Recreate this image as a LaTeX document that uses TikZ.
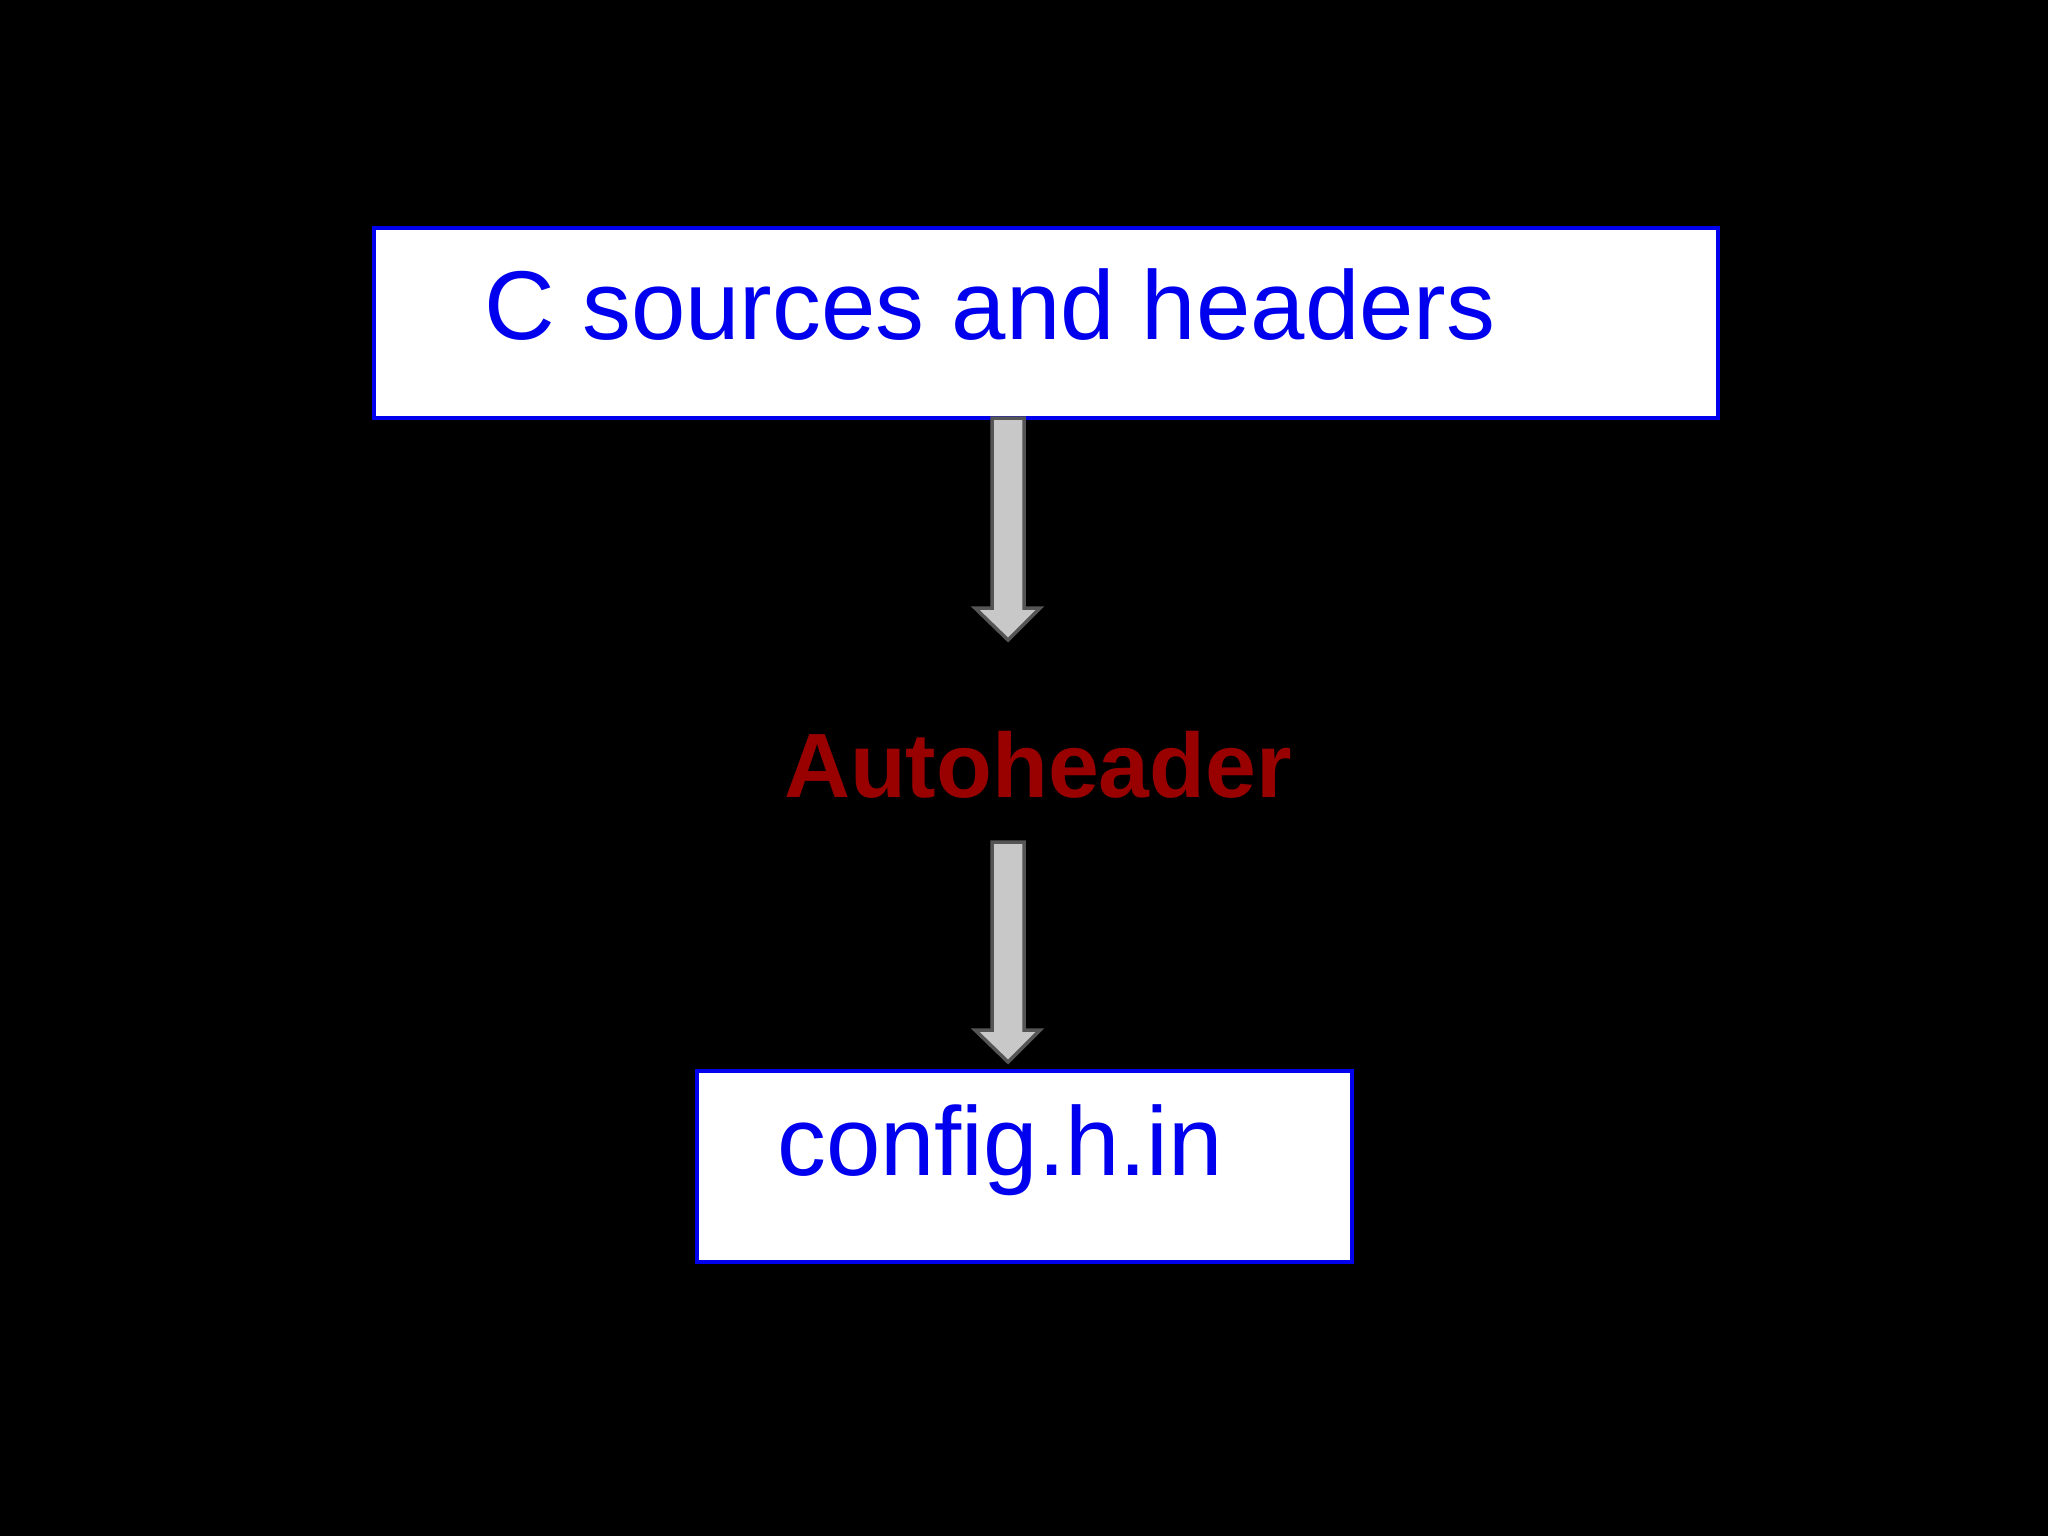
\documentclass[tikz,border=0pt]{standalone}
\usepackage{fontspec}
\setmainfont{Liberation Sans}
\definecolor{boxblue}{HTML}{0000EE}
\definecolor{darkred}{HTML}{990000}
\definecolor{arrfill}{HTML}{C8C8C8}
\definecolor{arrdraw}{HTML}{555555}
\begin{document}
\begin{tikzpicture}[x=0.01cm,y=-0.01cm,
  filebox/.style={draw=boxblue,line width=1.4pt,fill=white},
  fatarrow/.style={fill=arrfill,draw=arrdraw,line width=1pt,line join=miter}]
\fill[black] (0,0) rectangle (2048,1536);
\useasboundingbox (0,0) rectangle (2048,1536);
\draw[filebox] (374,228) rectangle (1718,418);
\node (src) at (990,305) {\fontsize{27.8pt}{32pt}\selectfont\color{boxblue}C sources and headers};
\node (ah) at (1038,765) {\fontsize{26pt}{30pt}\selectfont\bfseries\color{darkred}Autoheader};
\draw[filebox] (697,1071) rectangle (1352,1262);
\node (cfg) at (1000,1150) {\fontsize{27.8pt}{32pt}\selectfont\color{boxblue}config.h.in};
\draw[fatarrow] (992,418) -- (1024,418) -- (1024,608) -- (1040,608) -- (1008,640) -- (975,608) -- (992,608) -- cycle;
\draw[fatarrow] (992,842) -- (1024,842) -- (1024,1030) -- (1040,1030) -- (1008,1062) -- (975,1030) -- (992,1030) -- cycle;
\end{tikzpicture}
\end{document}
